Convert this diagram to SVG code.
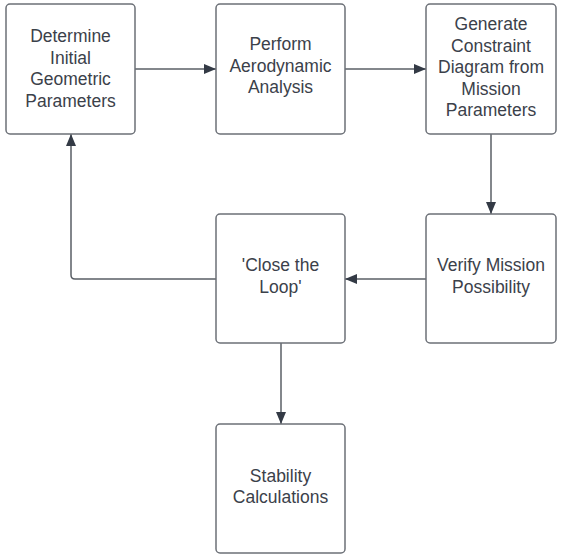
<svg xmlns="http://www.w3.org/2000/svg" width="564" height="559" viewBox="0 0 564 559">
<style>
.box{fill:#ffffff;stroke:#6c7077;stroke-width:1.5}
.t{font-family:"Liberation Sans",Arial,sans-serif;font-size:17.5px;fill:#3b414a;text-anchor:middle}
.c{fill:none;stroke:#5a5f66;stroke-width:1.5}
</style>
<defs>
<marker id="ah" viewBox="0 0 12 10" refX="12" refY="5" markerWidth="12" markerHeight="10" markerUnits="userSpaceOnUse" orient="auto">
<path d="M0,0 L12,5 L0,10 Z" fill="#333a45"/>
</marker>
</defs>
<rect width="564" height="559" fill="#ffffff"/>
<g id="connectors">
<path class="c" d="M135,69 H216" marker-end="url(#ah)"/>
<path class="c" d="M345,69 H426" marker-end="url(#ah)"/>
<path class="c" d="M491,134 V214" marker-end="url(#ah)"/>
<path class="c" d="M426,279 H345" marker-end="url(#ah)"/>
<path class="c" d="M216,279 H75 Q71,279 71,275 V134" marker-end="url(#ah)"/>
<path class="c" d="M281,343 V424" marker-end="url(#ah)"/>
</g>
<g id="n1">
<rect class="box" x="6" y="4" width="129" height="130" rx="4"/>
<text class="t" x="70.5" y="42">Determine</text>
<text class="t" x="70.5" y="63.5">Initial</text>
<text class="t" x="70.5" y="85">Geometric</text>
<text class="t" x="70.5" y="106.5">Parameters</text>
</g>
<g id="n2">
<rect class="box" x="216" y="4" width="129" height="130" rx="4"/>
<text class="t" x="280.5" y="50">Perform</text>
<text class="t" x="280.5" y="71.5">Aerodynamic</text>
<text class="t" x="280.5" y="93">Analysis</text>
</g>
<g id="n3">
<rect class="box" x="426" y="4" width="130" height="130" rx="4"/>
<text class="t" x="491" y="30">Generate</text>
<text class="t" x="491" y="51.5">Constraint</text>
<text class="t" x="491" y="73">Diagram from</text>
<text class="t" x="491" y="94.5">Mission</text>
<text class="t" x="491" y="116">Parameters</text>
</g>
<g id="n4">
<rect class="box" x="426" y="214" width="130" height="129" rx="4"/>
<text class="t" x="491" y="271">Verify Mission</text>
<text class="t" x="491" y="292.5">Possibility</text>
</g>
<g id="n5">
<rect class="box" x="216" y="214" width="129" height="129" rx="4"/>
<text class="t" x="280.5" y="271">'Close the</text>
<text class="t" x="280.5" y="292.5">Loop'</text>
</g>
<g id="n6">
<rect class="box" x="216" y="424" width="129" height="129" rx="4"/>
<text class="t" x="280.5" y="482">Stability</text>
<text class="t" x="280.5" y="503">Calculations</text>
</g>
</svg>
